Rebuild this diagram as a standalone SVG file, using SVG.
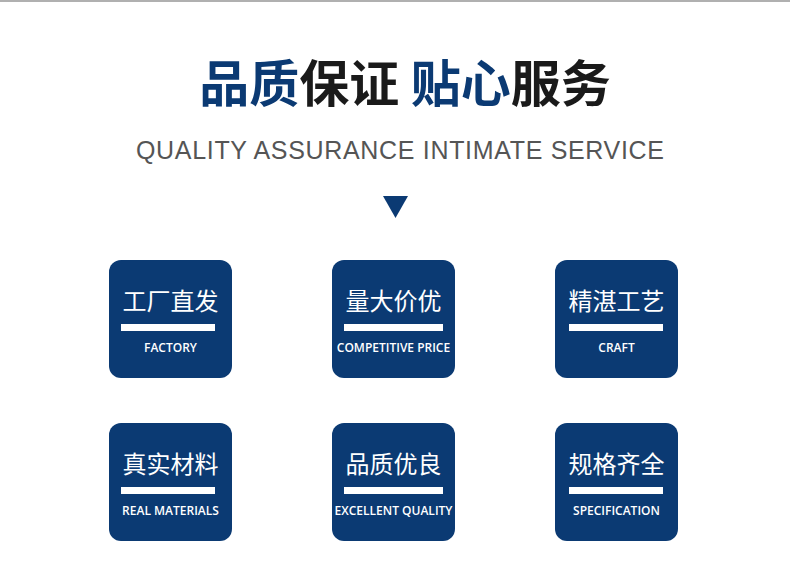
<svg xmlns="http://www.w3.org/2000/svg" width="790" height="568" viewBox="0 0 790 568">
<style>
.box{fill:#0b3a73}
.bar{fill:#fff}
.cn{font-family:"Noto Sans CJK SC",sans-serif;font-size:24px;fill:#fff;text-anchor:middle}
.en{font-family:"Open Sans","Liberation Sans",sans-serif;font-size:12px;font-weight:600;fill:#fff;text-anchor:middle}
</style>
<rect width="790" height="568" fill="#fff"/>
<rect x="0" y="0" width="790" height="2" fill="#b0b0b0"/>
<text x="405" y="102" font-family="Noto Sans CJK SC,sans-serif" font-size="50" font-weight="bold" text-anchor="middle"><tspan fill="#0b3a73">品质</tspan><tspan fill="#1a1a1a">保证 </tspan><tspan fill="#0b3a73">贴心</tspan><tspan fill="#1a1a1a">服务</tspan></text>
<text x="400" y="159" font-family="Liberation Sans,sans-serif" font-size="25" fill="#555" text-anchor="middle" textLength="528">QUALITY ASSURANCE INTIMATE SERVICE</text>
<polygon points="383,196 408,196 395.5,218" fill="#0b3a73"/>
<g id="n1"><rect class="box" x="109" y="260" width="123" height="118" rx="12"/><text class="cn" x="170.5" y="310">工厂直发</text><rect class="bar" x="121" y="324" width="94" height="7"/><text class="en" x="170.5" y="352">FACTORY</text></g>
<g id="n2"><rect class="box" x="332" y="260" width="123" height="118" rx="12"/><text class="cn" x="393.5" y="310">量大价优</text><rect class="bar" x="344" y="324" width="99" height="7"/><text class="en" x="393.5" y="352">COMPETITIVE PRICE</text></g>
<g id="n3"><rect class="box" x="555" y="260" width="123" height="118" rx="12"/><text class="cn" x="616.5" y="310">精湛工艺</text><rect class="bar" x="569" y="324" width="94" height="7"/><text class="en" x="616.5" y="352">CRAFT</text></g>
<g id="n4"><rect class="box" x="109" y="423" width="123" height="118" rx="12"/><text class="cn" x="170.5" y="473">真实材料</text><rect class="bar" x="121" y="487" width="94" height="7"/><text class="en" x="170.5" y="515">REAL MATERIALS</text></g>
<g id="n5"><rect class="box" x="332" y="423" width="123" height="118" rx="12"/><text class="cn" x="393.5" y="473">品质优良</text><rect class="bar" x="344" y="487" width="99" height="7"/><text class="en" x="393.5" y="515">EXCELLENT QUALITY</text></g>
<g id="n6"><rect class="box" x="555" y="423" width="123" height="118" rx="12"/><text class="cn" x="616.5" y="473">规格齐全</text><rect class="bar" x="569" y="487" width="94" height="7"/><text class="en" x="616.5" y="515">SPECIFICATION</text></g>
<g id="connectors"/>
</svg>
